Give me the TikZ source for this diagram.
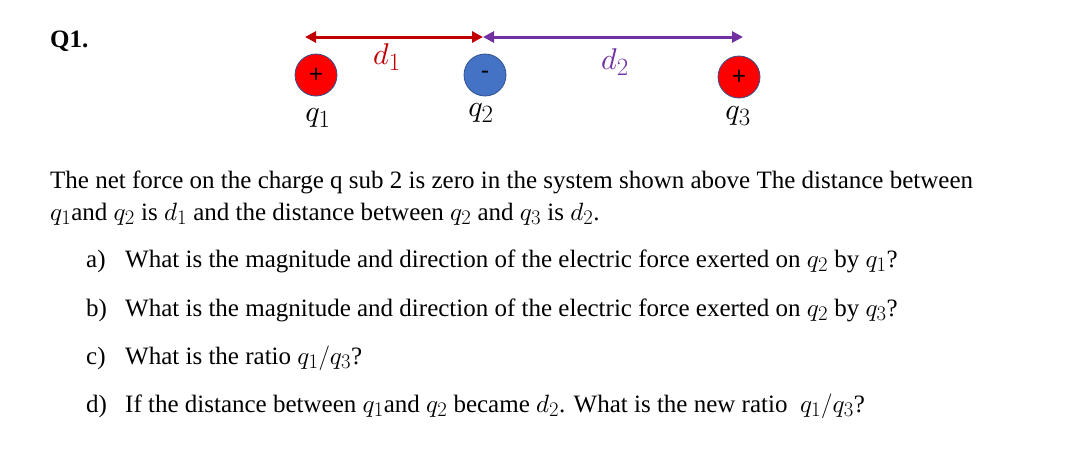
\documentclass[tikz,border=0pt]{standalone}
\usepackage{fontspec}
\setmainfont{Liberation Serif}
\newfontfamily\calib{Carlito}
\DeclareFontFamily{OML}{cmm}{\skewchar\font'177}
\DeclareFontShape{OML}{cmm}{m}{it}{<-6>cmmi5<6-8>cmmi7<8->cmmi10}{}
\DeclareFontFamily{OMS}{cmsy}{\skewchar\font'60}
\DeclareFontShape{OMS}{cmsy}{m}{n}{<-6>cmsy5<6-8>cmsy7<8->cmsy10}{}
\DeclareFontFamily{OMX}{cmex}{}
\DeclareFontShape{OMX}{cmex}{m}{n}{<->cmex10}{}
\def\defaultscriptratio{.78}
\usetikzlibrary{arrows.meta}
\definecolor{dred}{HTML}{C00000}
\definecolor{purp}{HTML}{7030A0}
\definecolor{qblue}{HTML}{4472C4}
\definecolor{edge}{HTML}{2F528F}
\tikzset{
  charge/.style={circle, minimum size=42pt, inner sep=0pt, draw=edge, line width=0.8pt, font=\calib\fontsize{26}{28}\selectfont},
  qlab/.style={inner sep=0pt, font=\fontsize{30}{34}\selectfont},
  dlab/.style={inner sep=0pt, font=\fontsize{30}{34}\selectfont},
  txt/.style={anchor=base west, inner sep=0pt, font=\fontsize{25}{29}\selectfont},
  dimarrow/.style={line width=3pt, {Triangle[length=11pt,width=11pt]}-{Triangle[length=11pt,width=11pt]}}
}
\begin{document}
\begin{tikzpicture}[x=1pt,y=-1pt]
\useasboundingbox (0,0) rectangle (1065,472);
\node[anchor=base west, inner sep=0pt, font=\bfseries\fontsize{25}{30}\selectfont] (title) at (50,47) {Q1.};
% charges
\node[charge, fill=red] (c1) at (316,75) {+};
\node[charge, fill=qblue] (c2) at (485,75) {-};
\node[charge, fill=red] (c3) at (739,77) {+};
\node[qlab] (l1) at (318,118) {$q_1$};
\node[qlab] (l2) at (481,113) {$q_2$};
\node[qlab] (l3) at (738,116) {$q_3$};
% dimension arrows
\coordinate (a1) at (305,37);
\coordinate (a2) at (483,37);
\coordinate (a3) at (743,37);
\draw[dimarrow, dred] (a1) -- (a2);
\draw[dimarrow, purp] (a2) -- (a3);
\node[dlab, text=dred] (d1) at (387,57) {$d_1$};
\node[dlab, text=purp] (d2) at (615,62) {$d_2$};
% text
\node[txt] (t1) at (50,188) {The net force on the charge q sub 2 is zero in the system shown above The distance between};
\node[txt] (t2) at (50,220) {$q_1$and $q_2$ is $d_1$ and the distance between $q_2$ and $q_3$ is $d_2$.};
\node[txt] (ia) at (86,267) {a)};
\node[txt] (ta) at (125,267) {What is the magnitude and direction of the electric force exerted on $q_2$ by $q_1$?};
\node[txt] (ib) at (86,316) {b)};
\node[txt] (tb) at (125,316) {What is the magnitude and direction of the electric force exerted on $q_2$ by $q_3$?};
\node[txt] (ic) at (86,364) {c)};
\node[txt] (tc) at (125,364) {What is the ratio $q_1/q_3$?};
\node[txt] (id) at (86,412) {d)};
\node[txt] (td) at (125,412) {If the distance between $q_1$and $q_2$ became $d_2$. What is the new ratio \ $q_1/q_3$?};
\end{tikzpicture}
\end{document}
